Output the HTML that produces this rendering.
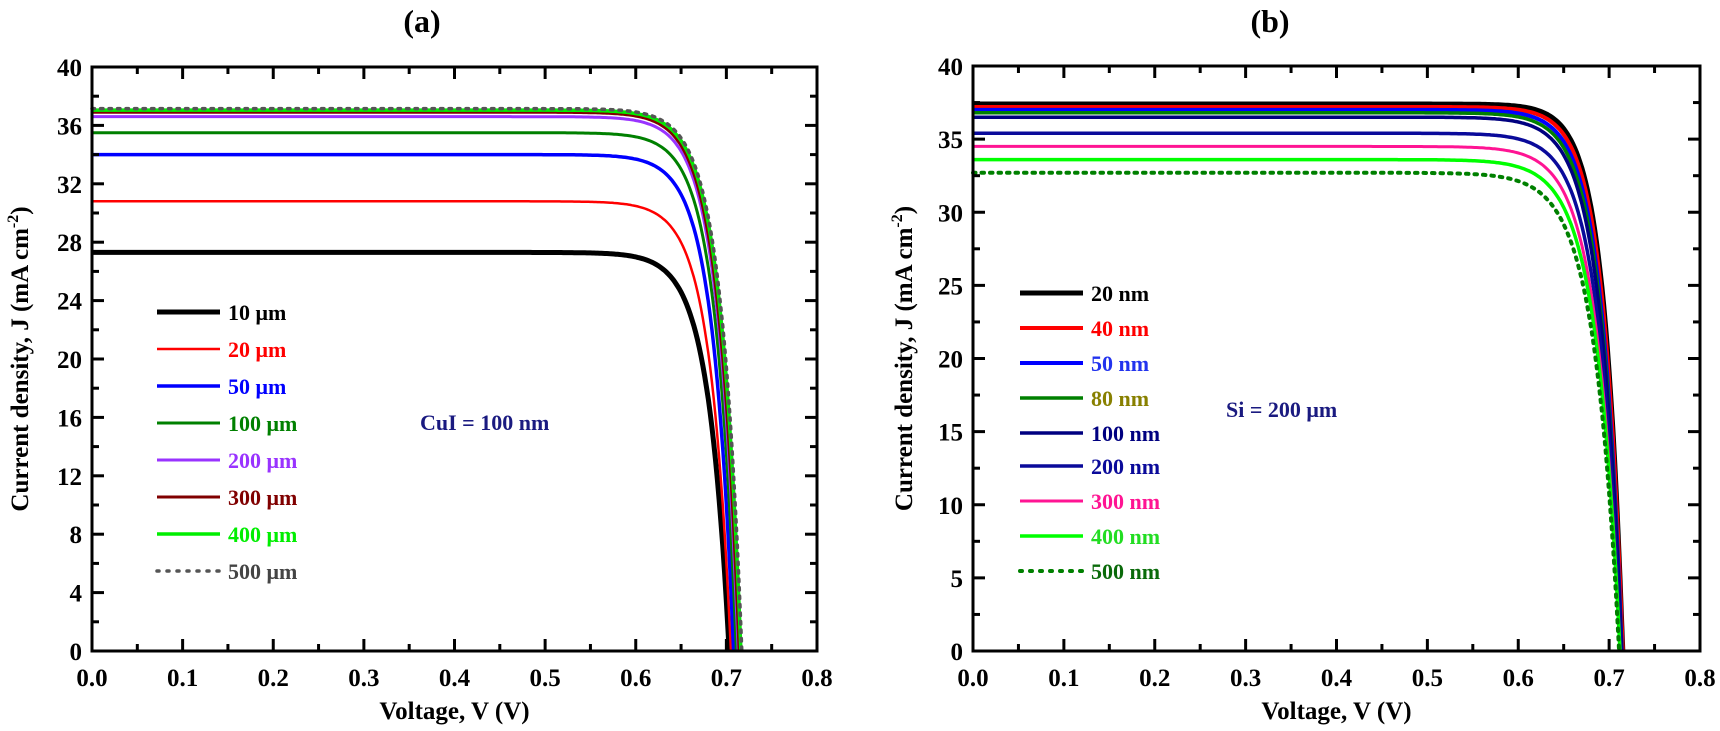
<!DOCTYPE html>
<html><head><meta charset="utf-8"><style>
body{margin:0;background:#fff}
svg{display:block;font-family:"Liberation Serif",serif;font-weight:bold}
</style></head><body>
<svg id="s" width="1720" height="731" viewBox="0 0 1720 731" xmlns="http://www.w3.org/2000/svg"></svg>
<script>
const s=document.getElementById('s');let h='';
function panel(o){
 const {L,R,T,B,ymax,ymaj,ymin,curves,leg,lx0,lx1,ltx,ly,note,nx,ny,title,tx,ylx}=o;
 const X=v=>L+(R-L)*v/0.8, Y=j=>B-(B-T)*j/ymax;
 curves.forEach(c=>{
  let p=[];for(let v=0;v<=c.voc+0.0001;v+=0.002){let j=c.jsc*(1-Math.exp((v-c.voc)/c.n));if(j<0)j=0;p.push(X(v).toFixed(1)+','+Y(j).toFixed(1));}
  p.push(X(c.voc).toFixed(1)+','+Y(0).toFixed(1));
  h+=`<polyline points="${p.join(' ')}" fill="none" stroke="${c.col}" stroke-width="${c.w}" ${c.dash?'stroke-dasharray="2.5 6" stroke-linecap="round"':''}/>`;
 });
 h+=`<rect x="${L}" y="${T}" width="${R-L}" height="${B-T}" fill="none" stroke="#000" stroke-width="3"/>`;
 for(let i=0;i<=16;i++){const x=L+(R-L)*i/16,len=i%2?7:12;
  h+=`<line x1="${x}" y1="${B}" x2="${x}" y2="${B-len}" stroke="#000" stroke-width="3"/><line x1="${x}" y1="${T}" x2="${x}" y2="${T+len}" stroke="#000" stroke-width="3"/>`;
  if(i%2==0)h+=`<text x="${x}" y="686" font-size="25" text-anchor="middle">${(i/20).toFixed(1)}</text>`;}
 for(let j=0;j<=ymax+0.001;j+=ymin){const y=Y(j),maj=Math.abs(j/ymaj-Math.round(j/ymaj))<0.01,len=maj?12:7;
  h+=`<line x1="${L}" y1="${y}" x2="${L+len}" y2="${y}" stroke="#000" stroke-width="3"/><line x1="${R}" y1="${y}" x2="${R-len}" y2="${y}" stroke="#000" stroke-width="3"/>`;
  if(maj)h+=`<text x="${L-10}" y="${y+9}" font-size="25" text-anchor="end">${Math.round(j)}</text>`;}
 h+=`<text x="${(L+R)/2}" y="719" font-size="25" text-anchor="middle">Voltage, V (V)</text>`;
 h+=`<text transform="translate(${ylx},${(T+B)/2}) rotate(-90)" font-size="25" text-anchor="middle">Current density, J (mA cm<tspan dy="-10" font-size="16">-2</tspan><tspan dy="10">)</tspan></text>`;
 h+=`<text x="${tx}" y="32" font-size="32" text-anchor="middle">${title}</text>`;
 leg.forEach((l,i)=>{const y=ly[i];
  h+=`<line x1="${lx0}" y1="${y}" x2="${lx1}" y2="${y}" stroke="${l.col}" stroke-width="${l.w}" ${l.dash?'stroke-dasharray="2 8" stroke-linecap="round"':''}/>`;
  h+=`<text x="${ltx}" y="${y+8}" font-size="22" fill="${l.tc||l.col}">${l.t}</text>`;});
 h+=`<text x="${nx}" y="${ny}" font-size="22" fill="#1a1a80">${note}</text>`;
}
const A=[[27.3,.703,'#000',5,'10 μm'],[30.8,.705,'#f00',2.5,'20 μm'],[34.0,.708,'#00f',3.5,'50 μm'],[35.5,.711,'#008000',3,'100 μm'],[36.6,.713,'#9933ff',3,'200 μm'],[36.9,.714,'#800000',3,'300 μm'],[37.05,.716,'#00ee00',3.5,'400 μm'],[37.15,.717,'#555',3.5,'500 μm',1]];
panel({L:92,R:817,T:67,B:651,ymax:40,ymaj:4,ymin:2,
 curves:A.map(a=>({jsc:a[0],voc:a[1],col:a[2],w:a[3],n:0.023,dash:a[5]})),
 leg:A.map(a=>({col:a[2],w:a[3],t:a[4],dash:a[5],tc:a[5]?'#444':undefined})),
 lx0:157,lx1:220,ltx:228,ly:[312,349,386,423,460,497,534,571],note:'CuI = 100 nm',nx:420,ny:430,title:'(a)',tx:422,ylx:28});
const Bd=[[37.4,.715,'#000',5,'20 nm'],[37.2,.715,'#f00',4,'40 nm'],[37.0,.714,'#0000ff',4,'50 nm','#2233ee'],[36.8,.714,'#008000',3.5,'80 nm','#888000'],[36.5,.714,'#000080',3.5,'100 nm'],[35.4,.713,'#0a0a9a',3.5,'200 nm'],[34.5,.712,'#ff1493',3,'300 nm'],[33.6,.712,'#00ff00',3.5,'400 nm','#22dd22'],[32.7,.711,'#008000',4,'500 nm','#0a6a0a',1]];
panel({L:973,R:1700,T:66,B:651,ymax:40,ymaj:5,ymin:2.5,
 curves:Bd.map((a,i)=>({jsc:a[0],voc:a[1],col:a[2],w:a[3],n:0.021+i*0.0008,dash:a[6]})),
 leg:Bd.map(a=>({col:a[2],w:a[3],t:a[4],tc:a[5],dash:a[6]})),
 lx0:1020,lx1:1083,ltx:1091,ly:[293,328,363,398,433,466,501,536,571],note:'Si = 200 μm',nx:1226,ny:417,title:'(b)',tx:1270,ylx:912});
s.innerHTML=h;
</script>
</body></html>
